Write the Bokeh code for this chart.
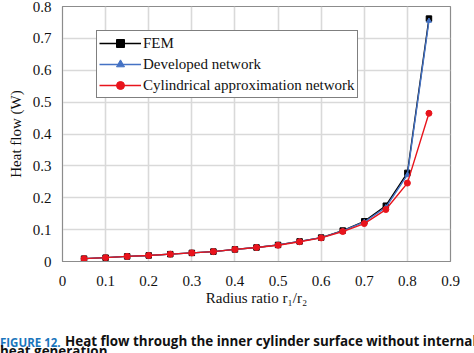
from bokeh.plotting import figure
from bokeh.models import Range1d, FixedTicker, Legend, LegendItem, Div
from bokeh.layouts import column
from bokeh.embed import file_html
from bokeh.resources import INLINE

# ---- data ----
radius_ratio = [0.05, 0.10, 0.15, 0.20, 0.25, 0.30, 0.35, 0.40, 0.45,
                0.50, 0.55, 0.60, 0.65, 0.70, 0.75, 0.80, 0.85]
fem = [0.009, 0.012, 0.016, 0.019, 0.023, 0.027, 0.031, 0.038, 0.044,
       0.052, 0.063, 0.075, 0.097, 0.126, 0.175, 0.278, 0.762]
developed = [0.009, 0.012, 0.016, 0.019, 0.023, 0.027, 0.031, 0.038, 0.044,
             0.052, 0.063, 0.075, 0.096, 0.124, 0.170, 0.272, 0.755]
cylindrical = [0.009, 0.012, 0.016, 0.019, 0.023, 0.027, 0.031, 0.038, 0.044,
               0.051, 0.062, 0.074, 0.094, 0.119, 0.163, 0.246, 0.465]
x_ticks = [0, 0.1, 0.2, 0.3, 0.4, 0.5, 0.6, 0.7, 0.8, 0.9]
y_ticks = [0, 0.1, 0.2, 0.3, 0.4, 0.5, 0.6, 0.7, 0.8]
x_title = "Radius ratio r\u2081/r\u2082"
y_title = "Heat flow (W)"
series_names = ["FEM", "Developed network", "Cylindrical approximation network"]
caption_head = "FIGURE 12."
caption_line1 = "Heat flow through the inner cylinder surface without internal"
caption_line2 = "heat generation."

SERIF = "Liberation Serif"

p = figure(width=474, height=330, output_backend="svg", toolbar_location=None,
           x_range=Range1d(0, 0.9), y_range=Range1d(0, 0.8),
           min_border_left=62, min_border_right=24, min_border_top=6,
           min_border_bottom=69)
p.background_fill_color = "white"
p.border_fill_color = "white"
p.outline_line_color = "#8c8c8c"
p.outline_line_width = 1.2

for ax, ticks in ((p.xaxis[0], x_ticks), (p.yaxis[0], y_ticks)):
    ax.ticker = FixedTicker(ticks=ticks)
    ax.major_label_overrides = {0: "0"}
    ax.major_tick_line_color = None
    ax.minor_tick_line_color = None
    ax.major_tick_out = 0
    ax.major_tick_in = 0
    ax.minor_tick_out = 0
    ax.minor_tick_in = 0
    ax.axis_line_color = "#8c8c8c"
    ax.major_label_text_font = SERIF
    ax.major_label_text_font_size = "15px"
    ax.major_label_text_color = "#111111"
    ax.axis_label_text_font = SERIF
    ax.axis_label_text_font_size = "15px"
    ax.axis_label_text_font_style = "normal"
    ax.axis_label_text_color = "#111111"

p.xaxis.axis_label = x_title
p.yaxis.axis_label = y_title
p.xaxis.major_label_standoff = 14
p.xaxis.axis_label_standoff = 1
p.yaxis.major_label_standoff = 11
p.yaxis.axis_label_standoff = 6

p.grid.grid_line_color = "#d9d9d9"
p.grid.grid_line_width = 1.6

r_fem_l = p.line(radius_ratio, fem, line_color="#000000", line_width=1.4)
r_fem_m = p.scatter(radius_ratio, fem, marker="square", size=5.5,
                    fill_color="#000000", line_color="#000000")
r_dev_l = p.line(radius_ratio, developed, line_color="#4472c4", line_width=1.4)
r_dev_m = p.scatter(radius_ratio, developed, marker="triangle", size=5,
                    fill_color="#4472c4", line_color="#4472c4")
r_cyl_l = p.line(radius_ratio, cylindrical, line_color="#e8141c", line_width=1.4)
r_cyl_m = p.scatter(radius_ratio, cylindrical, marker="circle", size=6,
                    fill_color="#e8141c", line_color="#e8141c")

legend = Legend(items=[
    LegendItem(label=series_names[0], renderers=[r_fem_l, r_fem_m]),
    LegendItem(label=series_names[1], renderers=[r_dev_l, r_dev_m]),
    LegendItem(label=series_names[2], renderers=[r_cyl_l, r_cyl_m]),
], location=(34, 163))
legend.label_text_font = SERIF
legend.label_text_font_size = "15px"
legend.label_text_color = "#111111"
legend.border_line_color = "#000000"
legend.border_line_width = 1.5
legend.background_fill_alpha = 1
legend.glyph_width = 42
legend.glyph_height = 20
legend.label_height = 20
legend.spacing = 1
legend.padding = 2
legend.margin = 0
legend.label_standoff = 2
p.add_layout(legend)

# ---- caption (HTML text block below the chart) ----
span = ("position:absolute;white-space:nowrap;line-height:1;"
        "font-family:'Open Sans',sans-serif;font-weight:700;")
caption_html = (
    '<div style="position:relative;width:474px;height:23px;overflow:hidden;'
    'background:white;">'
    f'<span style="{span}left:0px;top:7px;font-size:11.5px;color:#1a75bc;">'
    f'{caption_head}</span>'
    f'<span style="{span}left:65px;top:5px;font-size:13.4px;color:#111111;">'
    f'{caption_line1}</span>'
    f'<span style="{span}left:0px;top:15px;font-size:13.4px;color:#111111;">'
    f'{caption_line2}</span>'
    '</div>'
)
caption = Div(text=caption_html, width=474, height=23, margin=(0, 0, 0, 0))

layout = column(p, caption, spacing=0)
open("out.html", "w").write(file_html(layout, INLINE))
